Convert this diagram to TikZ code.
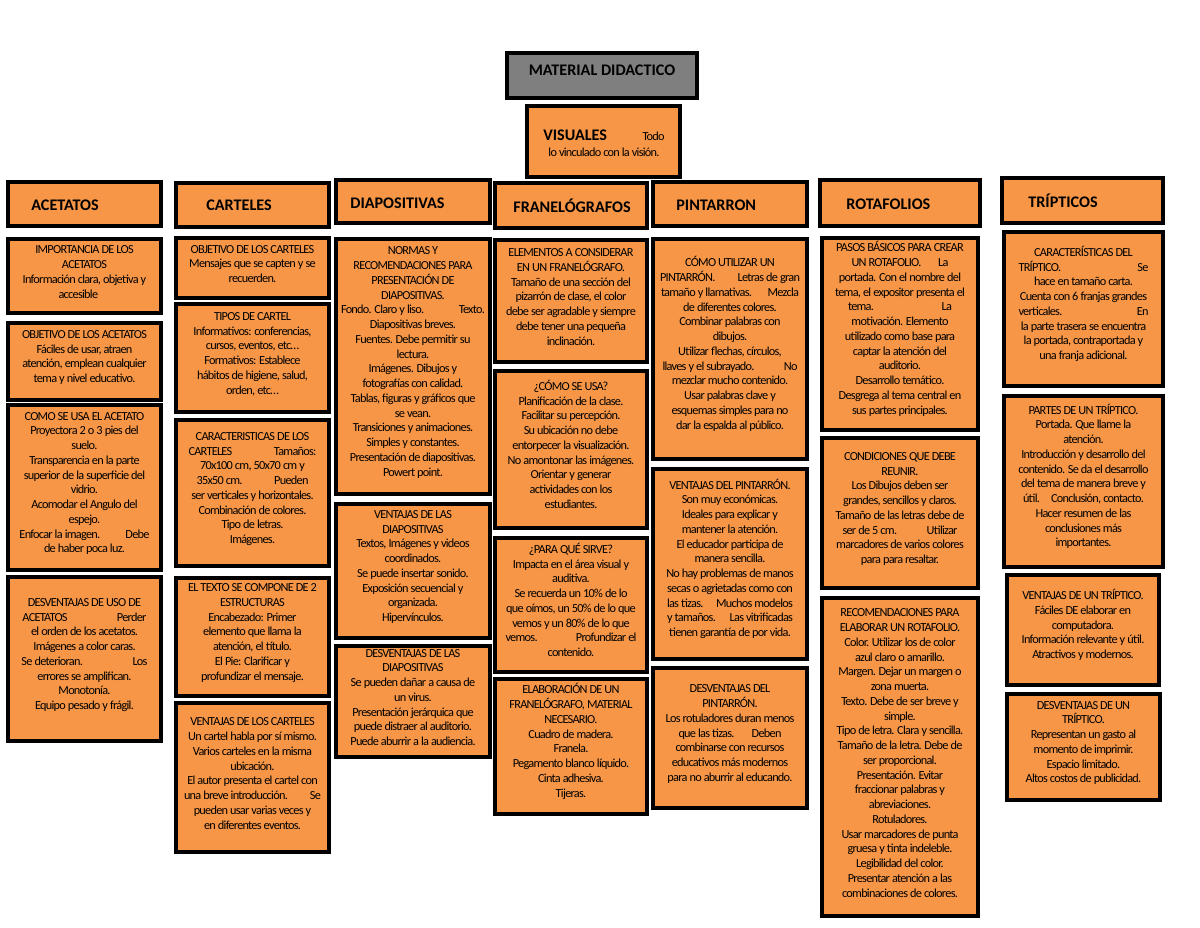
\documentclass[tikz,border=0pt]{standalone}
\usepackage{fontspec}
\setmainfont{Carlito}
\newfontfamily\apretada{Carlito}[LetterSpace=-6]
\usepackage{tikz}
\usetikzlibrary{fit}
\definecolor{naranja}{RGB}{247,150,70}
\definecolor{gris}{RGB}{127,127,127}
\newdimen\pxu \pxu=0.02cm
\newcommand{\cuerpo}{\apretada\fontsize{7}{8.4}\selectfont}
\newcommand{\titfont}{\fontsize{9.2}{11}\selectfont\bfseries}
% linea justificada: ancho en px, texto izquierda, texto derecha
\newcommand{\jl}[3]{\makebox[#1\pxu]{#2\hfill #3}}

\begin{document}
\begin{tikzpicture}[
  x=0.02cm, y=-0.02cm,
  caja/.style={draw=black, line width=2.4pt, fill=naranja, inner sep=0pt,
               align=center, font=\cuerpo},
  grisbox/.style={caja, fill=gris},
  titulo/.style={anchor=west, inner sep=0pt, font=\titfont}
]
\useasboundingbox (0,0) rectangle (1200,927);

% ---------- Raiz ---------------------------------------------------
\node[grisbox, fit={(507,53) (697,98)}, font=\titfont] (matdid) {MATERIAL DIDACTICO};
\node[caja, fit={(527,106) (680,177)}] (visuales) {};
\node[titulo] (tVis) at (543,135) {VISUALES};
\node[font=\cuerpo, anchor=east, inner sep=0pt] (tTodo) at (665,136) {Todo};
\node[font=\cuerpo] (tVinc) at (604,152) {lo vinculado con la visión.};

% ---------- Cabeceras ----------------------------------------------
\node[caja, fit={(8,182) (161,226)}] (cabAce) {};
\node[titulo] (tAce) at (31,205) {ACETATOS};
\node[caja, fit={(176,183) (329,227)}] (cabCar) {};
\node[titulo] (tCar) at (206,205) {CARTELES};
\node[caja, fit={(336,180) (490,223)}] (cabDia) {};
\node[titulo] (tDia) at (350,203) {DIAPOSITIVAS};
\node[caja, fit={(495,183) (647,228)}] (cabFra) {};
\node[titulo] (tFra) at (513,206) {FRANELÓGRAFOS};
\node[caja, fit={(653,182) (807,226)}] (cabPin) {};
\node[titulo] (tPin) at (676,205) {PINTARRON};
\node[caja, fit={(820,180) (980,226)}] (cabRot) {};
\node[titulo] (tRot) at (846,204) {ROTAFOLIOS};
\node[caja, fit={(1002,178) (1163,223)}] (cabTri) {};
\node[titulo] (tTri) at (1028,201) {TRÍPTICOS};

% ---------- Acetatos -----------------------------------------------
\node[caja, fit={(8,239) (161,313)}] (aceImp)
  {IMPORTANCIA DE LOS\\ ACETATOS\\ Información clara, objetiva y\\ \mbox{accesible\hspace{7pt}}};
\node[caja, fit={(8,323) (161,400)}] (aceObj)
  {OBJETIVO DE LOS ACETATOS\\ Fáciles de usar, atraen\\ atención, emplean cualquier\\
   tema y nivel educativo.};
\node[caja, fit={(8,405) (161,570)}] (aceUso)
  {COMO SE USA EL ACETATO\\ Proyectora 2 o 3 pies del\\ suelo.\\ Transparencia en la parte\\
   superior de la superficie del\\ vidrio.\\ Acomodar el Angulo del\\ espejo.\\
   \jl{130}{Enfocar la imagen.}{Debe}\\ de haber poca luz.};
\node[caja, fit={(8,577) (161,741)}] (aceDes)
  {DESVENTAJAS DE USO DE\\ \jl{124}{ACETATOS}{Perder}\\ el orden de los acetatos.\\
   Imágenes a color caras.\\ \jl{126}{Se deterioran.}{Los}\\ errores se amplifican.\\
   Monotonía.\\ Equipo pesado y frágil.};

% ---------- Carteles -----------------------------------------------
\node[caja, fit={(176,238) (329,298)}] (carObj)
  {OBJETIVO DE LOS CARTELES\\ Mensajes que se capten y se\\ recuerden.};
\node[caja, fit={(176,304) (329,412)}] (carTip)
  {TIPOS DE CARTEL\\ Informativos: conferencias,\\ cursos, eventos, etc…\\
   Formativos: Establece\\ hábitos de higiene, salud,\\ orden, etc…};
\node[caja, fit={(176,420) (329,566)}] (carCar)
  {CARACTERISTICAS DE LOS\\ \jl{128}{CARTELES}{Tamaños:}\\ 70x100 cm, 50x70 cm y\\
   \jl{112}{35x50 cm.}{Pueden}\\ ser verticales y horizontales.\\ Combinación de colores.\\
   Tipo de letras.\\ Imágenes.};
\node[caja, fit={(176,578) (329,696)}] (carTex)
  {EL TEXTO SE COMPONE DE 2\\ ESTRUCTURAS\\ Encabezado: Primer\\ elemento que llama la\\
   atención, el título.\\ El Pie: Clarificar y\\ profundizar el mensaje.};
\node[caja, fit={(176,703) (329,852)}] (carVen)
  {VENTAJAS DE LOS CARTELES\\ Un cartel habla por sí mismo.\\ Varios carteles en la misma\\
   ubicación.\\ El autor presenta el cartel con\\ \jl{137}{una breve introducción.}{Se}\\
   pueden usar varias veces y\\ en diferentes eventos.};

% ---------- Diapositivas -------------------------------------------
\node[caja, fit={(336,239) (490,494)}] (diaNor)
  {NORMAS Y\\ RECOMENDACIONES PARA\\ PRESENTACIÓN DE\\ DIAPOSITIVAS.\\
   \jl{144}{Fondo. Claro y liso.}{Texto.}\\ Diapositivas breves.\\ Fuentes. Debe permitir su\\
   lectura.\\ Imágenes. Dibujos y\\ fotografías con calidad.\\ Tablas, figuras y gráficos que\\
   se vean.\\ Transiciones y animaciones.\\ Simples y constantes.\\ Presentación de diapositivas.\\
   Powert point.};
\node[caja, fit={(336,504) (490,638)}] (diaVen)
  {VENTAJAS DE LAS\\ DIAPOSITIVAS\\ Textos, Imágenes y videos\\ coordinados.\\
   Se puede insertar sonido.\\ Exposición secuencial y\\ organizada.\\ Hipervínculos.};
\node[caja, fit={(336,646) (490,757)}] (diaDes)
  {DESVENTAJAS DE LAS\\ DIAPOSITIVAS\\ Se pueden dañar a causa de\\ un virus.\\
   Presentación jerárquica que\\ puede distraer al auditorio.\\ Puede aburrir a la audiencia.};

% ---------- Franelografos ------------------------------------------
\node[caja, fit={(495,240) (647,362)}] (fraEle)
  {ELEMENTOS A CONSIDERAR\\ EN UN FRANELÓGRAFO.\\ Tamaño de una sección del\\
   pizarrón de clase, el color\\ debe ser agradable y siempre\\ debe tener una pequeña\\
   inclinación.};
\node[caja, fit={(495,371) (647,528)}] (fraUso)
  {¿CÓMO SE USA?\\ Planificación de la clase.\\ Facilitar su percepción.\\
   Su ubicación no debe\\ entorpecer la visualización.\\ No amontonar las imágenes.\\
   Orientar y generar\\ actividades con los\\ estudiantes.};
\node[caja, fit={(495,538) (647,672)}] (fraSir)
  {¿PARA QUÉ SIRVE?\\ Impacta en el área visual y\\ auditiva.\\ Se recuerda un 10\% de lo\\
   que oímos, un 50\% de lo que\\ vemos y un 80\% de lo que\\
   \jl{131}{vemos.}{Profundizar el}\\ contenido.};
\node[caja, fit={(495,679) (647,814)}] (fraEla)
  {ELABORACIÓN DE UN\\ FRANELÓGRAFO, MATERIAL\\ NECESARIO.\\ Cuadro de madera.\\
   Franela.\\ Pegamento blanco líquido.\\ Cinta adhesiva.\\ Tijeras.};

% ---------- Pintarron ----------------------------------------------
\node[caja, fit={(653,239) (807,459)}] (pinUti)
  {CÓMO UTILIZAR UN\\ \jl{140}{PINTARRÓN.}{Letras de gran}\\
   \jl{138}{tamaño y llamativas.}{Mezcla}\\ de diferentes colores.\\
   Combinar palabras con\\ dibujos.\\ Utilizar flechas, círculos,\\
   \jl{135}{llaves y el subrayado.}{No}\\ mezclar mucho contenido.\\
   Usar palabras clave y\\ esquemas simples para no\\ dar la espalda al público.};
\node[caja, fit={(653,469) (807,659)}] (pinVen)
  {VENTAJAS DEL PINTARRÓN.\\ Son muy económicas.\\ Ideales para explicar y\\
   mantener la atención.\\ El educador participa de\\ manera sencilla.\\
   No hay problemas de manos\\ secas o agrietadas como con\\
   \jl{126}{las tizas.}{Muchos modelos}\\ \jl{126}{y tamaños.}{Las vitrificadas}\\
   tienen garantía de por vida.};
\node[caja, fit={(653,668) (807,808)}] (pinDes)
  {DESVENTAJAS DEL\\ PINTARRÓN.\\ Los rotuladores duran menos\\
   \jl{103}{que las tizas.}{Deben}\\ combinarse con recursos\\
   educativos más modernos\\ para no aburrir al educando.};

% ---------- Rotafolios ---------------------------------------------
\node[caja, fit={(822,238) (978,430)}] (rotPas)
  {PASOS BÁSICOS PARA CREAR\\ \jl{97}{UN ROTAFOLIO.}{La}\\
   portada. Con el nombre del\\ tema, el expositor presenta el\\ \jl{104}{tema.}{La}\\
   motivación. Elemento\\ utilizado como base para\\ captar la atención del\\
   auditorio.\\ Desarrollo temático.\\ Desgrega al tema central en\\ sus partes principales.};
\node[caja, fit={(822,438) (978,588)}] (rotCon)
  {CONDICIONES QUE DEBE\\ REUNIR.\\ Los Dibujos deben ser\\ grandes, sencillos y claros.\\
   Tamaño de las letras debe de\\ \jl{115}{ser de 5 cm.}{Utilizar}\\
   marcadores de varios colores\\ para para resaltar.};
\node[caja, fit={(822,598) (978,916)}] (rotRec)
  {RECOMENDACIONES PARA\\ ELABORAR UN ROTAFOLIO.\\ Color. Utilizar los de color\\
   azul claro o amarillo.\\ Margen. Dejar un margen o\\ zona muerta.\\
   Texto. Debe de ser breve y\\ simple.\\ Tipo de letra. Clara y sencilla.\\
   Tamaño de la letra. Debe de\\ ser proporcional.\\ Presentación. Evitar\\
   fraccionar palabras y\\ abreviaciones.\\ Rotuladores.\\ Usar marcadores de punta\\
   gruesa y tinta indeleble.\\ Legibilidad del color.\\ Presentar atención a las\\
   combinaciones de colores.};

% ---------- Tripticos ----------------------------------------------
\node[caja, fit={(1004,232) (1163,386)}] (triCar)
  {CARACTERÍSTICAS DEL\\ \jl{130}{TRÍPTICO.}{Se}\\ hace en tamaño carta.\\
   Cuenta con 6 franjas grandes\\ \jl{130}{verticales.}{En}\\
   la parte trasera se encuentra\\ la portada, contraportada y\\ una franja adicional.};
\node[caja, fit={(1004,396) (1163,567)}] (triPar)
  {PARTES DE UN TRÍPTICO.\\ Portada. Que llame la\\ atención.\\
   Introducción y desarrollo del\\ contenido. Se da el desarrollo\\
   del tema de manera breve y\\ \jl{121}{útil.}{Conclusión, contacto.}\\
   Hacer resumen de las\\ conclusiones más\\ importantes.};
\node[caja, fit={(1007,575) (1159,685)}] (triVen)
  {VENTAJAS DE UN TRÍPTICO.\\ Fáciles DE elaborar en\\ computadora.\\
   Información relevante y útil.\\ Atractivos y modernos.};
\node[caja, fit={(1007,694) (1160,800)}] (triDes)
  {DESVENTAJAS DE UN\\ TRÍPTICO.\\ Representan un gasto al\\ momento de imprimir.\\
   Espacio limitado.\\ Altos costos de publicidad.};

\end{tikzpicture}
\end{document}
